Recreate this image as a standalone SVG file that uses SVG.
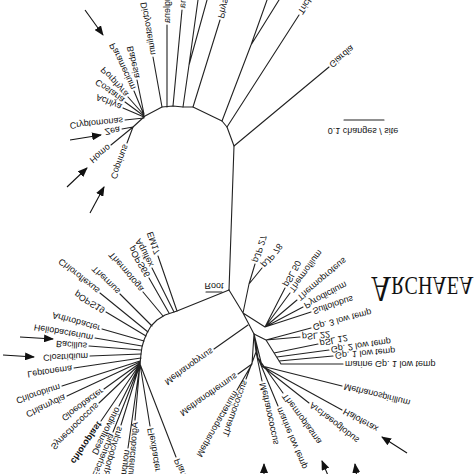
<svg xmlns="http://www.w3.org/2000/svg" width="474" height="474" viewBox="0 0 474 474">
<defs>
<marker id="ah" markerUnits="userSpaceOnUse" markerWidth="10" markerHeight="8" refX="9" refY="4" orient="auto"><path d="M0,0 L10,4 L0,8 z" fill="#111"/></marker>
<style>
.l{font-family:"Liberation Sans",Arial,sans-serif;font-size:9px;fill:#111;dominant-baseline:central}
.e{text-anchor:end}
.b{fill:none;stroke:#222;stroke-width:1.1;stroke-linejoin:round;stroke-linecap:round}
.a{fill:none;stroke:#111;stroke-width:1.1;marker-end:url(#ah)}
</style>
</defs>
<rect width="474" height="474" fill="#fff"/>
<g id="connectors">
<path class="b" d="M133,127 L145,116 L162,107 L173,106 L183,107 L193,107 L222,121 L227,127 L234,146 L229,290"/>
<path class="b" d="M144,114 L137,80 M144,115 L134,91 M144,115 L128,97 M144,116 L125,102 M144,117 L123,108 M144,118 L125,120 M133,127 L122,129 M133,127 L111,145 M133,127 L127,143 M162,107 L153,57 M167,107 L167,25 M173,106 L182,10 M183,107 L189,65 L198,0 M189,65 L207,0 M193,107 L220,20 M222,121 L251,45 L267,0 M251,45 L279,0 M227,127 L299,15 M234,146 L329,67"/>
<path class="b" d="M229,290 L177,311 L165,315 L157,320 L151,326 L147,333 L144,340 L142,347 L141,354 L140,364"/>
<path class="b" d="M177,311 L158,256 M174,312 L152,268 M169,313 L149,278 M163,316 L143,292 M152,326 L120,294 M148,332 L100,293 M146,336 L106,312 M144,341 L102,329 M142,346 L95,338 M141,350 L89,346 M141,354 L90,356 M141,358 L74,368 M140,361 L62,386 M140,362 L67,396 M140,363 L104,389 M140,364 L99,403 M140,364 L101,421 M140,364 L119,406 M140,364 L113,432 M140,364 L121,425 M140,364 L128,448 M140,364 L135,420 M140,364 L150,426 M140,364 L176,457"/>
<path class="b" d="M229,290 L243,313 L254,334 M243,313 L249,284 L255,264 M249,284 L262,268 M243,313 L265,327 L285,288 M265,327 L290,293 M265,327 L297,300 M265,327 L303,307 M265,327 L311,312"/>
<path class="b" d="M254,334 L266,340 L281,364 L343,364 M266,340 L311,328 M266,340 L300,337 M274,353 L318,344 M277,357 L329,350 M279,361 L333,356"/>
<path class="b" d="M254,334 L262,366 L342,386 M262,366 L342,410 M262,366 L309,403 M254,334 L258,358 L283,393 M258,358 L278,406 M254,334 L256,352 L262,381 M256,352 L246,379 M254,334 L252,364 L238,374 M252,364 L237,390 M248,325 L214,349"/>
<path class="b" d="M206,292 L222,292 M344,120 L384,120"/>
<path class="a" d="M85,10 L103,35"/>
<path class="a" d="M70,140 L101,135"/>
<path class="a" d="M67,187 L87,168"/>
<path class="a" d="M90,213 L104,187"/>
<path class="a" d="M20,337 L53,339"/>
<path class="a" d="M3,355 L34,357"/>
<path class="a" d="M407,453 L382,437"/>
<path class="a" d="M358,485 L355,464"/>
<path class="a" d="M332,485 L322,461"/>
<path class="a" d="M264,485 L264,464"/>
</g>
<g id="eucarya">
<g id="n-paramecium"><text class="l e" x="-2" transform="translate(134,91) rotate(65) scale(1,-1)">Paramecium</text></g>
<g id="n-babesia"><text class="l e" x="-2" transform="translate(137,80) rotate(78) scale(1,-1)">Babesia</text></g>
<g id="n-porphyra"><text class="l e" x="-2" transform="translate(128,97) rotate(48) scale(1,-1)">Porphyra</text></g>
<g id="n-costaria"><text class="l e" x="-2" transform="translate(125,102) rotate(36) scale(1,-1)">Costaria</text></g>
<g id="n-achlya"><text class="l e" x="-2" transform="translate(123,108) rotate(23) scale(1,-1)">Achlya</text></g>
<g id="n-cryptomonas"><text class="l e" x="-2" transform="translate(125,120) rotate(-6) scale(1,-1)">Cryptomonas</text></g>
<g id="n-zea"><text class="l e" x="-2" transform="translate(122,129) rotate(-10) scale(1,-1)">Zea</text></g>
<g id="n-homo"><text class="l e" x="-2" transform="translate(111,145) rotate(-39) scale(1,-1)">Homo</text></g>
<g id="n-coprinus"><text class="l e" x="-2" transform="translate(127,143) rotate(-69) scale(1,-1)">Coprinus</text></g>
<g id="n-dictyostelium"><text class="l e" x="-2" transform="translate(153,57) rotate(80) scale(1,-1)">Dictyostelium</text></g>
<g id="n-euglena"><text class="l e" x="-2" transform="translate(167,25) rotate(90) scale(1,-1)">Euglena</text></g>
<g id="n-trypanosoma"><text class="l e" x="-2" transform="translate(182,10) rotate(95) scale(1,-1)">Trypanosoma</text></g>
<g id="n-physarum"><text class="l" x="2" transform="translate(220,20) rotate(-73) scale(1,-1)">Physarum</text></g>
<g id="n-trichomonas"><text class="l" x="2" transform="translate(299,15) rotate(-57) scale(1,-1)">Trichomonas</text></g>
<g id="n-giardia"><text class="l" x="2" transform="translate(329,67) rotate(-40) scale(1,-1)">Giardia</text></g>
</g>
<g id="bacteria">
<g id="n-em17"><text class="l e" x="-2" transform="translate(158,256) rotate(71) scale(1,-1)">EM17</text></g>
<g id="n-aquifex"><text class="l e" x="-2" transform="translate(152,268) rotate(63) scale(1,-1)">Aquifex</text></g>
<g id="n-pops66"><text class="l e" x="-2" transform="translate(149,278) rotate(60) scale(1,-1)">pOPS66</text></g>
<g id="n-thermotoga"><text class="l e" x="-2" transform="translate(143,292) rotate(50) scale(1,-1)">Thermotoga</text></g>
<g id="n-thermus"><text class="l e" x="-2" transform="translate(120,294) rotate(45) scale(1,-1)">Thermus</text></g>
<g id="n-chloroflexus"><text class="l e" x="-2" transform="translate(100,293) rotate(39) scale(1,-1)">Chloroflexus</text></g>
<g id="n-pops19"><text class="l e" x="-2" transform="translate(106,312) rotate(31) scale(1,-1)">pOPS19</text></g>
<g id="n-arthrobacter"><text class="l e" x="-2" transform="translate(102,329) rotate(16) scale(1,-1)">Arthrobacter</text></g>
<g id="n-heliobacterium"><text class="l e" x="-2" transform="translate(95,338) rotate(10) scale(1,-1)">Heliobacterium</text></g>
<g id="n-bacillus"><text class="l e" x="-2" transform="translate(89,346) rotate(4) scale(1,-1)">Bacillus</text></g>
<g id="n-clostridium"><text class="l e" x="-2" transform="translate(90,356) rotate(-2) scale(1,-1)">Clostridium</text></g>
<g id="n-leptonema"><text class="l e" x="-2" transform="translate(74,368) rotate(-8) scale(1,-1)">Leptonema</text></g>
<g id="n-chlorobium"><text class="l e" x="-2" transform="translate(62,386) rotate(-18) scale(1,-1)">Chlorobium</text></g>
<g id="n-chlamydia"><text class="l e" x="-2" transform="translate(67,396) rotate(-25) scale(1,-1)">Chlamydia</text></g>
<g id="n-gloeobacter"><text class="l e" x="-2" transform="translate(104,389) rotate(-36) scale(1,-1)">Gloeobacter</text></g>
<g id="n-synechococcus"><text class="l e" x="-2" transform="translate(99,403) rotate(-44) scale(1,-1)">Synechococcus</text></g>
<g id="n-chloroplast"><text class="l e" x="-2" font-weight="bold" transform="translate(101,421) rotate(-56) scale(1,-1)">chloroplast</text></g>
<g id="n-desulfovibrio"><text class="l e" x="-2" transform="translate(119,406) rotate(-63) scale(1,-1)">Desulfovibrio</text></g>
<g id="n-escherichia"><text class="l e" x="-2" transform="translate(113,432) rotate(-68) scale(1,-1)">Escherichia</text></g>
<g id="n-rhodocyclus"><text class="l e" x="-2" transform="translate(121,425) rotate(-73) scale(1,-1)">Rhodocyclus</text></g>
<g id="n-mitochondrion"><text class="l e" x="-2" transform="translate(128,448) rotate(-82) scale(1,-1)">mitochondrion</text></g>
<g id="n-agrobacterium"><text class="l" x="2" transform="translate(135,420) rotate(95) scale(1,-1)">Agrobacterium</text></g>
<g id="n-flexibacter"><text class="l" x="2" transform="translate(150,426) rotate(81) scale(1,-1)">Flexibacter</text></g>
<g id="n-planctomyces"><text class="l" x="2" transform="translate(176,457) rotate(69) scale(1,-1)">Planctomyces</text></g>
</g>
<g id="archaea">
<g id="n-pjp27"><text class="l" x="2" transform="translate(255,264) rotate(-73) scale(1,-1)">pJP 27</text></g>
<g id="n-pjp78"><text class="l" x="2" transform="translate(262,268) rotate(-51) scale(1,-1)">pJP 78</text></g>
<g id="n-psl50"><text class="l" x="2" transform="translate(285,288) rotate(-63) scale(1,-1)">pSL 50</text></g>
<g id="n-thermofilum"><text class="l" x="2" transform="translate(290,293) rotate(-54) scale(1,-1)">Thermofilum</text></g>
<g id="n-thermoproteus"><text class="l" x="2" transform="translate(297,300) rotate(-40) scale(1,-1)">Thermoproteus</text></g>
<g id="n-pyrodictium"><text class="l" x="2" transform="translate(303,307) rotate(-28) scale(1,-1)">Pyrodictium</text></g>
<g id="n-sulfolobus"><text class="l" x="2" transform="translate(311,312) rotate(-18) scale(1,-1)">Sulfolobus</text></g>
<g id="n-gp3"><text class="l" x="2" transform="translate(311,328) rotate(-15) scale(1,-1)">Gp. 3 low temp</text></g>
<g id="n-psl22"><text class="l" x="2" transform="translate(300,337) rotate(-5) scale(1,-1)">pSL 22</text></g>
<g id="n-psl12"><text class="l" x="2" transform="translate(318,344) rotate(-12) scale(1,-1)">pSL 12</text></g>
<g id="n-gp2"><text class="l" x="2" transform="translate(329,350) rotate(-8) scale(1,-1)">Gp. 2 low temp</text></g>
<g id="n-gp1"><text class="l" x="2" transform="translate(333,356) rotate(-5) scale(1,-1)">Gp. 1 low temp</text></g>
<g id="n-marinegp1"><text class="l" x="2" transform="translate(343,364) rotate(0) scale(1,-1)">marine Gp. 1 low temp</text></g>
<g id="n-methanospirillum"><text class="l" x="2" transform="translate(342,386) rotate(14) scale(1,-1)">Methanospirillum</text></g>
<g id="n-haloferax"><text class="l" x="2" transform="translate(342,410) rotate(29) scale(1,-1)">Haloferax</text></g>
<g id="n-archaeoglobus"><text class="l" x="2" transform="translate(309,403) rotate(38) scale(1,-1)">Archaeoglobus</text></g>
<g id="n-thermoplasma"><text class="l" x="2" transform="translate(283,393) rotate(54) scale(1,-1)">Thermoplasma</text></g>
<g id="n-marinelow"><text class="l" x="2" transform="translate(278,406) rotate(67) scale(1,-1)">marine low temp</text></g>
<g id="n-methanococcus"><text class="l" x="2" transform="translate(262,381) rotate(78) scale(1,-1)">Methanococcus</text></g>
<g id="n-thermococcus"><text class="l e" x="-2" transform="translate(246,379) rotate(-70) scale(1,-1)">Thermococcus</text></g>
<g id="n-methanobacterium"><text class="l e" x="-2" transform="translate(237,390) rotate(-60) scale(1,-1)">Methanobacterium</text></g>
<g id="n-methanothermus"><text class="l e" x="-2" transform="translate(238,374) rotate(-35) scale(1,-1)">Methanothermus</text></g>
<g id="n-methanopyrus"><text class="l e" x="-2" transform="translate(214,349) rotate(-35) scale(1,-1)">Methanopyrus</text></g>
</g>
<g id="root"><text class="l" text-anchor="middle" transform="translate(214,286) scale(1,-1)">Root</text></g>
<g id="scale"><text class="l" text-anchor="middle" transform="translate(363,131) scale(1,-1)">0.1 changes / site</text></g>
<g id="domain-archaea"><text transform="translate(371,277) scale(1,-1.3)" style="font-family:'Liberation Serif','Times New Roman',serif;fill:#111"><tspan font-size="28">A</tspan><tspan font-size="20">RCHAEA</tspan></text></g>
</svg>
